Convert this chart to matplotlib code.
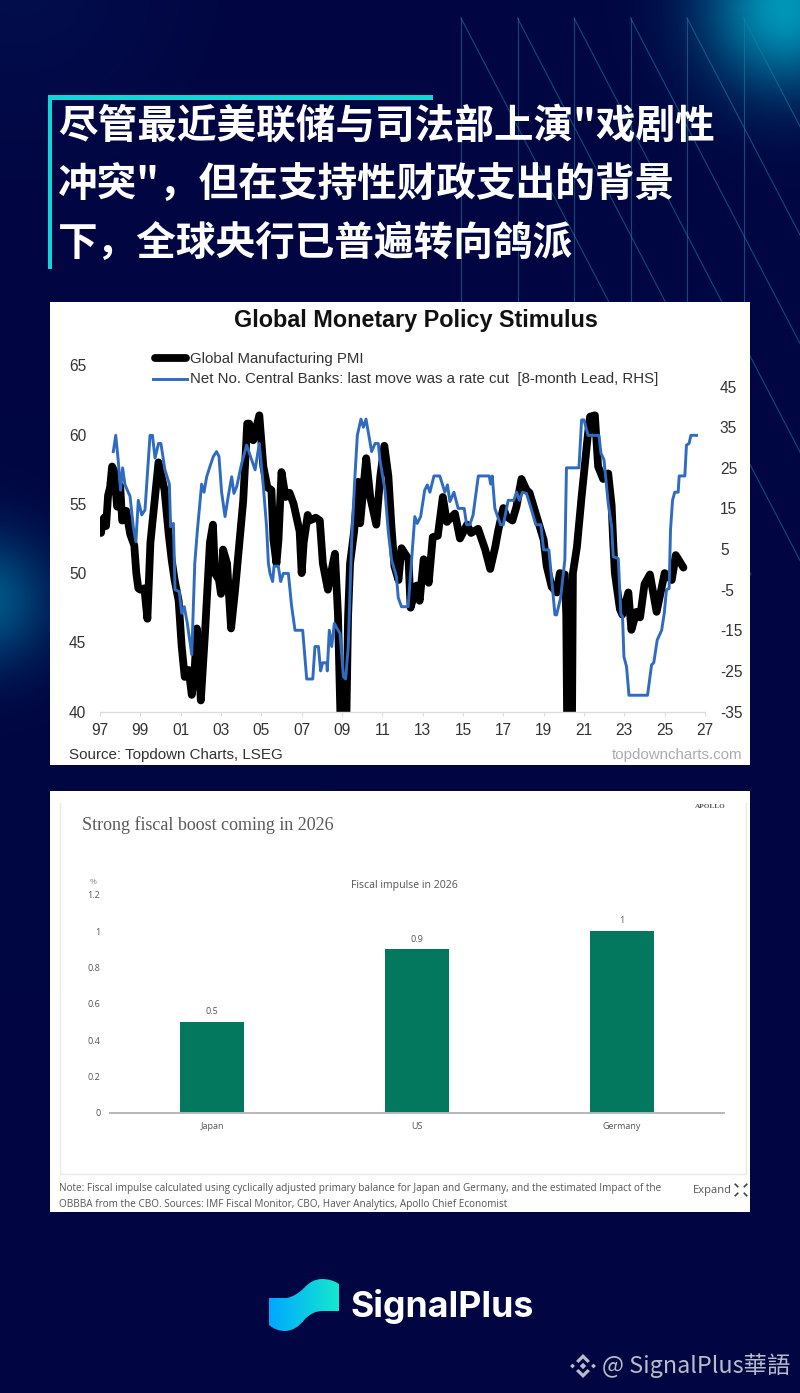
import numpy as np
import matplotlib
matplotlib.use("Agg")
import matplotlib.pyplot as plt
from matplotlib.patches import Rectangle, PathPatch, Polygon
from matplotlib.path import Path

TITLE_LINES = ['尽管最近美联储与司法部上演"戏剧性', '冲突"，但在支持性财政支出的背景', '下，全球央行已普遍转向鸽派']

PMI_YEARS = [1997.0,1997.05,1997.1,1997.2,1997.3,1997.4,1997.5,1997.6,1997.7,1997.85,1998.0,1998.1,1998.3,1998.5,1998.7,1998.8,1998.9,
 1999.0,1999.2,1999.35,1999.5,1999.9,2000.2,2000.4,2000.55,2000.7,2000.9,2001.05,2001.2,2001.4,2001.55,2001.7,2001.8,2002.0,2002.2,2002.45,
 2002.6,2002.7,2002.9,2003.0,2003.1,2003.3,2003.5,2003.7,2003.9,2004.1,2004.3,2004.4,2004.6,2004.9,2005.1,2005.3,2005.5,2005.6,2005.75,2005.85,
 2006.0,2006.2,2006.4,2006.6,2006.9,2007.0,2007.1,2007.3,2007.4,2007.7,2007.9,2008.05,2008.3,2008.55,2008.65,2008.8,2008.95,2009.2,2009.3,
 2009.4,2009.6,2009.8,2009.9,2010.2,2010.4,2010.7,2010.9,2011.1,2011.3,2011.45,2011.6,2011.8,2011.95,2012.3,2012.4,2012.7,2012.85,2013.05,2013.3,
 2013.5,2013.75,2014.0,2014.2,2014.6,2014.85,2015.2,2015.4,2015.75,2016.1,2016.35,2016.6,2016.75,2017.0,2017.15,2017.45,2017.65,2017.9,2018.15,
 2018.3,2018.65,2019.0,2019.15,2019.4,2019.65,2019.8,2020.05,2020.12,2020.17,2020.4,2020.45,2020.65,2020.88,2021.2,2021.3,2021.54,2021.7,2021.95,
 2022.2,2022.37,2022.45,2022.53,2022.78,2022.9,2023.2,2023.35,2023.6,2023.78,2024.0,2024.27,2024.6,2025.0,2025.35,2025.55,2025.93]
PMI_VALUES = [53.2,52.9,53.4,54.0,53.4,55.6,56.2,57.7,57.4,54.8,56.3,53.8,54.5,52.8,52.0,50.0,48.9,
 48.8,48.9,46.7,52.2,58.0,56.0,52.9,51.0,49.5,48.0,44.7,42.5,43.0,41.2,43.2,46.0,40.8,45.5,52.2,53.5,
 50.0,49.5,48.5,51.7,50.7,46.0,48.8,52.0,55.2,60.8,60.8,59.6,61.4,57.7,56.2,56.0,52.4,50.7,52.4,57.3,55.5,55.8,55.0,53.0,50.0,
 52.2,54.2,53.8,54.0,53.8,50.7,48.8,50.7,51.4,47.0,38.0,38.0,46.8,50.7,53.0,56.6,53.6,58.3,55.5,53.5,57.0,59.2,57.0,53.4,50.5,49.5,51.8,51.0,47.5,
 49.1,48.0,51.0,49.3,52.6,52.7,55.5,53.7,54.3,52.5,53.5,52.9,53.2,51.7,50.3,51.9,53.1,54.7,54.1,53.8,54.8,56.8,56.0,55.8,54.1,52.4,50.5,49.0,48.6,
 50.0,49.9,47.0,38.0,38.0,50.0,51.9,55.5,60.1,61.3,61.4,57.7,56.8,57.2,54.9,52.2,50.0,47.4,47.0,48.6,45.9,47.2,46.8,49.2,49.9,47.2,50.0,49.5,51.3,50.4]

BANK_POINTS_YEARS = [1997.66,1997.78,1997.9,1998.02,1998.12,1998.24,1998.49,1998.65,1998.78,1998.9,1999.07,1999.23,1999.4,1999.48,1999.6,1999.73,1999.9,2000.02,
 2000.22,2000.44,2000.5,2000.64,2000.72,2000.93,2001.05,2001.18,2001.33,2001.55,2001.7,2001.83,2002.04,2002.16,2002.29,2002.45,2002.62,2002.78,2002.9,2003.03,2003.2,
 2003.36,2003.53,2003.64,2003.78,2004.02,2004.27,2004.52,2004.69,2004.9,2005.1,2005.26,2005.35,2005.43,2005.56,2005.63,2005.84,2005.96,2006.09,2006.34,2006.5,2006.67,
 2007.05,2007.25,2007.55,2007.66,2007.83,2007.94,2008.04,2008.24,2008.27,2008.37,2008.49,2008.62,2008.9,2009.07,2009.18,2009.31,2009.48,2009.64,2009.76,2009.94,2010.06,
 2010.19,2010.47,2010.64,2010.8,2010.88,2011.13,2011.3,2011.46,2011.7,2011.79,2011.95,2012.28,2012.61,2012.73,2012.9,2013.1,2013.23,2013.36,2013.56,2013.85,2014.1,2014.23,
 2014.35,2014.55,2014.76,2015.06,2015.18,2015.34,2015.5,2015.76,2016.3,2016.37,2016.45,2016.58,2016.86,2017.0,2017.24,2017.52,2017.66,2017.79,2017.95,2018.15,2018.4,2018.61,
 2018.86,2019.0,2019.26,2019.4,2019.56,2019.64,2019.84,2020.05,2020.13,2020.75,2020.88,2021.0,2021.2,2021.74,2021.84,2021.99,2022.2,2022.37,2022.45,2022.7,2022.83,2022.91,
 2022.98,2023.11,2023.23,2024.15,2024.35,2024.46,2024.63,2024.85,2024.98,2025.09,2025.22,2025.29,2025.39,2025.5,2025.67,2025.72,2026.0,2026.08,2026.21,2026.3,2026.58]
BANK_POINTS_VALUES = [29,33,27,19.5,25,20.8,18,10.5,6.8,17,13.4,14.6,27,33,33,27.4,31,31,
 24.5,21,10.5,11.3,-5,-5.5,-10.8,-9.2,-13.3,-21,1.5,9.7,21,19,22.8,25.3,27.8,29,27.8,19,13,
 18,22.8,18.7,20.4,26,30.6,27,24.5,31,20.4,10.5,1.5,-1,-3,0.8,0.8,-3,-1,-1,-9,-15,
 -15,-27,-27,-19,-19,-25,-23,-23,-25,-15,-19,-13.3,-15.8,-26.4,-27,-19,7.2,22.8,33,37,35,
 37,29,31,31,27,19.5,9,2.3,-1.8,-7,-9.2,-9.2,13,11.3,13,19.5,20.8,19,23,23,19,20.8,
 16.7,19,15,15,11,11,13.4,23,23,21,23,15,11,11,17,17,19,17,19,18.7,14.6,11,
 11,4.8,4.8,-2.6,-11.2,-11.2,-7,2.3,25,25,36.8,36.8,33,33,28.6,27,16.3,10.5,3.1,2.7,-11.2,-11.6,
 -21.5,-24,-31,-31,-23.5,-23,-17.4,-15,-10.8,-5,-4.7,9.7,17,19,19,23,23,30.6,31,33,33]

LEFT_TICKS = [40,45,50,55,60,65]
RIGHT_TICKS = [-35,-25,-15,-5,5,15,25,35,45]
YEAR_TICKS = list(range(1997,2028,2))
YEAR_LABELS = [f"{y%100:02d}" for y in YEAR_TICKS]

COUNTRIES = ["Japan","US","Germany"]
IMPULSE = [0.5,0.9,1.0]
IMPULSE_LABELS = ["0.5","0.9","1"]
IMPULSE_TICKS = [0,0.2,0.4,0.6,0.8,1,1.2]
IMPULSE_TICK_LABELS = ["0","0.2","0.4","0.6","0.8","1","1.2"]

W,H = 800,1393
NAVY = np.array([1,6,66])/255
fig = plt.figure(figsize=(W/100,H/100),dpi=100)
bg = fig.add_axes([0,0,1,1]); bg.set_xlim(0,W); bg.set_ylim(H,0); bg.axis('off')

# background glows
yy,xx = np.mgrid[0:H,0:W]
img = np.ones((H,W,3))*NAVY
def glow(cx,cy,r,col,a):
    global img
    d2 = ((xx-cx)**2+(yy-cy)**2)/(r*r)
    m = (a*np.exp(-d2))[...,None]
    img = img*(1-m)+np.array(col)/255*m
glow(785,8,80,(0,175,205),0.85)
glow(-15,600,65,(0,150,190),0.55)
glow(20,-20,140,(8,40,110),0.22)
bg.imshow(img,extent=(0,W,H,0),aspect='auto',zorder=0,interpolation='bilinear')
bg.set_xlim(0,W); bg.set_ylim(H,0)

# decorative lines
LINE = '#1a82a8'
for x0 in [461,517.5,574,630.5,687,743.5]:
    bg.plot([x0,x0],[18,320],color=LINE,lw=0.8,alpha=0.55,zorder=1)
    bg.plot([x0,x0+290],[18,18+290*1.92],color=LINE,lw=0.8,alpha=0.55,zorder=1)

# heading
CY = '#11d6d8'
bg.add_patch(Rectangle((48,95),385,4.5,color=CY,lw=0,zorder=2))
bg.add_patch(Rectangle((48,95),4,174,color=CY,lw=0,zorder=2))
for t,y in zip(TITLE_LINES,[126,185,243]):
    bg.text(58,y,t,color='white',fontsize=28.55,fontweight='bold',family=['Noto Sans CJK SC','DejaVu Sans'],va='center',ha='left',zorder=3)

# panels
bg.add_patch(Rectangle((50,302),700,463,color='white',lw=0,zorder=2))
bg.add_patch(Rectangle((50,791),700,421,color='white',lw=0,zorder=2))

def axes_px(l,t,r,b):
    return fig.add_axes([l/W,1-b/H,(r-l)/W,(b-t)/H])

# chart 1
TXT='#333333'
ax = axes_px(100,365.5,705,711.5)
ax.patch.set_alpha(0)
ax.set_xlim(1997,2027); ax.set_ylim(40,65)
ax.plot(PMI_YEARS,PMI_VALUES,color='black',lw=5.6,solid_joinstyle='round',solid_capstyle='round',zorder=2)
for s in ['top','left','right']: ax.spines[s].set_visible(False)
ax.spines['bottom'].set_color('#d9dde3'); ax.spines['bottom'].set_linewidth(1)
ax.set_xticks(YEAR_TICKS); ax.set_xticklabels(YEAR_LABELS,fontsize=11.2,color=TXT,family='Liberation Sans')
ax.tick_params(axis='x',length=3,color='#d9dde3',pad=5,direction='out')
ax.set_yticks(LEFT_TICKS); ax.set_yticklabels(LEFT_TICKS,fontsize=11.2,color=TXT,family='Liberation Sans')
ax.tick_params(axis='y',length=0,pad=10)
ax2 = ax.twinx()
ax2.patch.set_alpha(0)
ax2.set_xlim(1997,2027); ax2.set_ylim(-35,50.2)
ax2.plot(BANK_POINTS_YEARS,BANK_POINTS_VALUES,color='#2f6bc0',lw=2.1,zorder=3,solid_joinstyle='round')
for s in ax2.spines.values(): s.set_visible(False)
ax2.set_yticks(RIGHT_TICKS); ax2.set_yticklabels(RIGHT_TICKS,fontsize=11.2,color=TXT,family='Liberation Sans')
ax2.tick_params(axis='y',length=0,pad=10.7)

top = fig.add_axes([0,0,1,1]); top.set_xlim(0,W); top.set_ylim(H,0); top.axis('off'); top.patch.set_alpha(0)
LS='Liberation Sans'
top.text(416,320,"Global Monetary Policy Stimulus",fontsize=16.85,fontweight='bold',family=LS,color='#111111',ha='center',va='center')
top.plot([155,186],[358,358],color='black',lw=5.6,solid_capstyle='round')
top.plot([153,187],[379,379],color='#2f6bc0',lw=2.1)
top.text(189.5,358.5,"Global Manufacturing PMI",fontsize=10.85,family=LS,color=TXT,va='center')
top.text(189.5,379.5,"Net No. Central Banks: last move was a rate cut  [8-month Lead, RHS]",fontsize=10.85,family=LS,color=TXT,va='center')
top.text(69,755,"Source: Topdown Charts, LSEG",fontsize=10.9,family=LS,color=TXT,va='center')
top.text(742,755,"topdowncharts.com",fontsize=10.9,family=LS,color='#a9adb2',va='center',ha='right')

# chart 2
GR='#555555'
OS='Open Sans'
top.plot([60,60,746,746],[803,1174,1174,803],color='#e9eaec',lw=1)
bax = axes_px(110,894.7,724,1112.7)
bax.patch.set_alpha(0)
bax.set_xlim(-0.5,2.5); bax.set_ylim(0,1.2)
bars = bax.bar(COUNTRIES,IMPULSE,width=0.312,color='#04785f')
for b,l in zip(bars,IMPULSE_LABELS):
    bax.annotate(l,(b.get_x()+b.get_width()/2,b.get_height()),xytext=(0,4),textcoords='offset points',ha='center',va='bottom',fontsize=6.5,color=GR,family=OS)
for s in ['top','left','right']: bax.spines[s].set_visible(False)
bax.spines['bottom'].set_color('#b5b7bf'); bax.spines['bottom'].set_linewidth(1.4)
bax.set_yticks(IMPULSE_TICKS); bax.set_yticklabels(IMPULSE_TICK_LABELS,fontsize=6.5,color=GR,family=OS)
bax.tick_params(axis='y',length=0,pad=7)
bax.tick_params(axis='x',length=0,pad=7,labelsize=6.5,labelcolor=GR)
for t in bax.get_xticklabels(): t.set_family(OS)
top.text(82,825,"Strong fiscal boost coming in 2026",fontsize=13,family='Liberation Serif',color='#5a5a5a',va='center')
top.text(726,807,"APOLLO",fontsize=5.2,fontweight='bold',family='Liberation Serif',color='#555555',va='center',ha='right')
top.text(93.5,883,"%",fontsize=6,family=OS,color='#888888',va='center',ha='center')
top.text(404,885.5,"Fiscal impulse in 2026",fontsize=7.55,family=OS,color=GR,va='center',ha='center')
top.text(59,1189,"Note: Fiscal impulse calculated using cyclically adjusted primary balance for Japan and Germany, and the estimated Impact of the",fontsize=7.18,family=OS,color=GR,va='center')
top.text(59,1204.5,"OBBBA from the CBO. Sources: IMF Fiscal Monitor, CBO, Haver Analytics, Apollo Chief Economist",fontsize=7.18,family=OS,color=GR,va='center')
top.text(693,1190,"Expand",fontsize=8,family=OS,color='#555555',va='center')
for dx,dy in [(-1,-1),(1,-1),(-1,1),(1,1)]:
    cx,cy=741+dx*4.5,1190+dy*4.5
    top.plot([cx-dx*1.2,cx+dx*1.2],[cy-dy*1.2,cy+dy*1.2],color='#444444',lw=1.2)

# logo
M,L,C,Z = Path.MOVETO,Path.LINETO,Path.CURVE3,Path.CLOSEPOLY
verts=[(269,1298),(287,1298),(296,1296),(304,1288),(312,1279),(322,1279),(332,1279),(339,1284),(339,1311),
       (322,1311),(313,1311),(305,1319),(296,1331),(285,1331),(276,1331),(269,1325),(269,1298)]
codes=[M,L,C,C,C,C,C,C,L,L,C,C,C,C,C,C,Z]
grad = np.linspace(0,1,70)[None,:,None]
c1=np.array([0,168,255])/255; c2=np.array([20,232,205])/255
gimg = c1+(c2-c1)*np.repeat(grad,52,axis=0)
im = top.imshow(gimg,extent=(269,339,1331,1279),aspect='auto',zorder=4)
top.set_xlim(0,W); top.set_ylim(H,0)
pp = PathPatch(Path(verts,codes),transform=top.transData,fc='none',ec='none')
top.add_patch(pp); im.set_clip_path(pp)
top.text(350,1307,"SignalPlus",fontsize=25.7,fontweight='bold',family='Inter',color='white',va='center')

# watermark
WM='#b9bccb'
cx,cy=583,1366
def diamond(x,y,r):
    top.add_patch(Polygon([(x-r,y),(x,y-r),(x+r,y),(x,y+r)],closed=True,fc=WM,ec='none'))
diamond(cx,cy,3.2); diamond(cx-10.5,cy,2.4); diamond(cx+10.5,cy,2.4)
top.add_patch(Polygon([(cx-7,cy-5),(cx,cy-12),(cx+7,cy-5),(cx+4.5,cy-3),(cx,cy-7.5),(cx-4.5,cy-3)],closed=True,fc=WM,ec='none'))
top.add_patch(Polygon([(cx-7,cy+5),(cx,cy+12),(cx+7,cy+5),(cx+4.5,cy+3),(cx,cy+7.5),(cx-4.5,cy+3)],closed=True,fc=WM,ec='none'))
top.text(602.5,1366,"@ SignalPlus華語",fontsize=16.8,family=['Noto Sans CJK TC','DejaVu Sans'],color=WM,va='center')

fig.savefig('out.png',dpi=100)
